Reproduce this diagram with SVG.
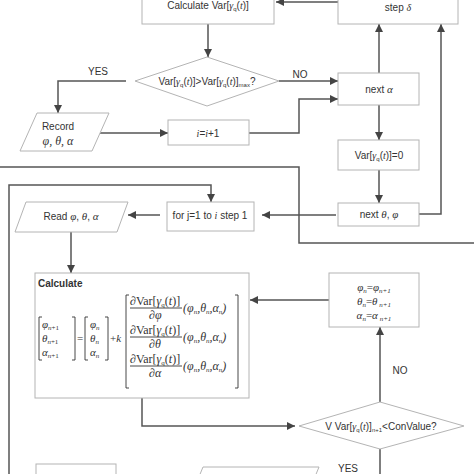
<svg xmlns="http://www.w3.org/2000/svg" width="474" height="474" viewBox="0 0 474 474">
<style>
.box{fill:#fff;stroke:#b4b4b4;stroke-width:1}
.con{fill:none;stroke:#555;stroke-width:1.5}
.t{font-family:"Liberation Sans","DejaVu Sans",sans-serif;font-size:10px;fill:#333}
.m{font-family:"Liberation Serif","DejaVu Serif",serif;font-style:italic;fill:#333}
.r{font-family:"Liberation Serif","DejaVu Serif",serif;fill:#333}
</style>
<defs>
<marker id="ah" viewBox="0 0 10 10" refX="10" refY="5" markerWidth="8" markerHeight="8" markerUnits="userSpaceOnUse" orient="auto">
<path d="M0,0 L10,5 L0,10 z" fill="#444"/>
</marker>
</defs>
<rect width="474" height="474" fill="#fff"/>

<g id="connectors">
<path class="con" d="M338,2 H276" marker-end="url(#ah)"/>
<path class="con" d="M208,24 V57" marker-end="url(#ah)"/>
<path class="con" d="M126,81 H58 V113" marker-end="url(#ah)"/>
<path class="con" d="M279,81 H338" marker-end="url(#ah)"/>
<path class="con" d="M100,133 H168" marker-end="url(#ah)"/>
<path class="con" d="M249,133 H299 V99 H338" marker-end="url(#ah)"/>
<path class="con" d="M379,73 V24" marker-end="url(#ah)"/>
<path class="con" d="M379,105 V140" marker-end="url(#ah)"/>
<path class="con" d="M379,170 V203" marker-end="url(#ah)"/>
<path class="con" d="M419,214 H441 V24" marker-end="url(#ah)"/>
<path class="con" d="M336,215 H262" marker-end="url(#ah)"/>
<path class="con" d="M160,215 H128" marker-end="url(#ah)"/>
<path class="con" d="M0,167 H299 V243 H474"/>
<path class="con" d="M9,474 V185 H211 V202" marker-end="url(#ah)"/>
<path class="con" d="M71,232 V273" marker-end="url(#ah)"/>
<path class="con" d="M142,398 V426 H295" marker-end="url(#ah)"/>
<path class="con" d="M380,402 V327" marker-end="url(#ah)"/>
<path class="con" d="M329,300 H250" marker-end="url(#ah)"/>
<path class="con" d="M380,449 V474"/>
<text class="t" x="98" y="75" text-anchor="middle">YES</text>
<text class="t" x="300" y="78" text-anchor="middle">NO</text>
<text class="t" x="400" y="374" text-anchor="middle">NO</text>
<text class="t" x="348" y="472" text-anchor="middle">YES</text>
</g>

<g id="calc-var">
<rect class="box" x="142" y="-20" width="132" height="44"/>
<text class="t" x="208" y="9" text-anchor="middle">Calculate Var[<tspan class="m">γ</tspan><tspan font-size="6" dy="2">q</tspan><tspan dy="-2">(</tspan><tspan class="m">t</tspan>)]</text>
</g>

<g id="step">
<rect class="box" x="338" y="-20" width="120" height="44"/>
<text class="t" x="398" y="11" text-anchor="middle">step <tspan class="m">δ</tspan></text>
</g>

<g id="diamond1">
<polygon class="box" points="135,81 207,57 279,81 207,106"/>
<text class="t" x="207" y="85" text-anchor="middle">Var[<tspan class="m">γ</tspan><tspan font-size="6" dy="2">q</tspan><tspan dy="-2">(</tspan><tspan class="m">t</tspan>)]&gt;Var[<tspan class="m">γ</tspan><tspan font-size="6" dy="2">q</tspan><tspan dy="-2">(</tspan><tspan class="m">t</tspan>)]<tspan font-size="6" dy="2">max</tspan><tspan dy="-2">?</tspan></text>
</g>

<g id="record">
<polygon class="box" points="37,113 109,113 92,151 20,151"/>
<text class="t" x="58" y="130" text-anchor="middle">Record</text>
<text class="m" x="58" y="145" font-size="12" text-anchor="middle">φ, θ, α</text>
</g>

<g id="incr">
<rect class="box" x="168" y="120" width="81" height="25"/>
<text class="t" x="208" y="137" text-anchor="middle"><tspan class="m">i</tspan>=<tspan class="m">i</tspan>+1</text>
</g>

<g id="next-alpha">
<rect class="box" x="338" y="73" width="81" height="32"/>
<text class="t" x="379" y="93" text-anchor="middle">next <tspan class="m" font-size="11">α</tspan></text>
</g>

<g id="var-zero">
<rect class="box" x="338" y="140" width="81" height="30"/>
<text class="t" x="379" y="159" text-anchor="middle">Var[<tspan class="m">γ</tspan><tspan font-size="6" dy="2">q</tspan><tspan dy="-2">(</tspan><tspan class="m">t</tspan>)]=0</text>
</g>

<g id="next-theta">
<rect class="box" x="338" y="203" width="81" height="23"/>
<text class="t" x="379" y="218" text-anchor="middle">next <tspan class="m" font-size="11">θ</tspan>, <tspan class="m" font-size="11">φ</tspan></text>
</g>

<g id="for-loop">
<rect class="box" x="167" y="202" width="87" height="29"/>
<text class="t" x="210" y="219" text-anchor="middle">for j=1 to <tspan class="m">i</tspan> step 1</text>
</g>

<g id="read">
<polygon class="box" points="26,202 128,202 117,232 15,232"/>
<text class="t" x="71" y="220" text-anchor="middle">Read <tspan class="m" font-size="11">φ</tspan>, <tspan class="m" font-size="11">θ</tspan>, <tspan class="m" font-size="11">α</tspan></text>
</g>

<g id="calculate">
<rect class="box" x="35" y="273" width="214" height="125"/>
<text class="t" x="38" y="287" font-weight="bold">Calculate</text>
<g fill="none" stroke="#333" stroke-width="0.9">
<path d="M42,317 H39 V360 H42"/>
<path d="M72,317 H75 V360 H72"/>
<path d="M88,317 H85 V360 H88"/>
<path d="M105,317 H108 V360 H105"/>
<path d="M129,295 H126 V388 H129"/>
<path d="M235,295 H238 V388 H235"/>
<path d="M130,308 H182 M130,337 H182 M130,366 H182"/>
</g>
<g font-size="11">
<text class="m" x="42" y="328">φ<tspan font-size="7" dy="2">n</tspan><tspan font-size="7" font-style="normal">+1</tspan></text>
<text class="m" x="42" y="342">θ<tspan font-size="7" dy="2">n</tspan><tspan font-size="7" font-style="normal">+1</tspan></text>
<text class="m" x="42" y="356">α<tspan font-size="7" dy="2">n</tspan><tspan font-size="7" font-style="normal">+1</tspan></text>
<text class="r" x="77" y="342">=</text>
<text class="m" x="90" y="328">φ<tspan font-size="7" dy="2">n</tspan></text>
<text class="m" x="90" y="342">θ<tspan font-size="7" dy="2">n</tspan></text>
<text class="m" x="90" y="356">α<tspan font-size="7" dy="2">n</tspan></text>
<text class="r" x="110" y="342">+<tspan font-style="italic">k</tspan></text>
</g>
<g font-size="12">
<text class="r" x="130" y="305">∂Var[<tspan font-style="italic">γ</tspan><tspan font-size="7" dy="2">q</tspan><tspan dy="-2">(</tspan><tspan font-style="italic">t</tspan>)]</text>
<text class="m" x="149" y="319">∂φ</text>
<text class="m" x="183" y="312">(φ<tspan font-size="7" dy="2">n</tspan><tspan dy="-2">,θ</tspan><tspan font-size="7" dy="2">n</tspan><tspan dy="-2">,α</tspan><tspan font-size="7" dy="2">n</tspan><tspan dy="-2">)</tspan></text>
<text class="r" x="130" y="334">∂Var[<tspan font-style="italic">γ</tspan><tspan font-size="7" dy="2">q</tspan><tspan dy="-2">(</tspan><tspan font-style="italic">t</tspan>)]</text>
<text class="m" x="149" y="348">∂θ</text>
<text class="m" x="183" y="341">(φ<tspan font-size="7" dy="2">n</tspan><tspan dy="-2">,θ</tspan><tspan font-size="7" dy="2">n</tspan><tspan dy="-2">,α</tspan><tspan font-size="7" dy="2">n</tspan><tspan dy="-2">)</tspan></text>
<text class="r" x="130" y="363">∂Var[<tspan font-style="italic">γ</tspan><tspan font-size="7" dy="2">q</tspan><tspan dy="-2">(</tspan><tspan font-style="italic">t</tspan>)]</text>
<text class="m" x="149" y="377">∂α</text>
<text class="m" x="183" y="370">(φ<tspan font-size="7" dy="2">n</tspan><tspan dy="-2">,θ</tspan><tspan font-size="7" dy="2">n</tspan><tspan dy="-2">,α</tspan><tspan font-size="7" dy="2">n</tspan><tspan dy="-2">)</tspan></text>
</g>
</g>

<g id="update">
<rect class="box" x="329" y="273" width="90" height="54"/>
<g font-size="11" text-anchor="middle">
<text class="m" x="374" y="291">φ<tspan font-size="7" dy="2">n</tspan><tspan dy="-2" font-style="normal">=</tspan>φ<tspan font-size="7" dy="2">n+1</tspan></text>
<text class="m" x="374" y="305">θ<tspan font-size="7" dy="2">n</tspan><tspan dy="-2" font-style="normal">=</tspan>θ<tspan font-size="7" dy="2"> n+1</tspan></text>
<text class="m" x="374" y="319">α<tspan font-size="7" dy="2">n</tspan><tspan dy="-2" font-style="normal">=</tspan>α<tspan font-size="7" dy="2"> n+1</tspan></text>
</g>
</g>

<g id="diamond2">
<polygon class="box" points="299,426 380,402 464,426 380,449"/>
<text class="t" x="381" y="430" text-anchor="middle">V Var[<tspan class="m">γ</tspan><tspan font-size="6" dy="2">q</tspan><tspan dy="-2">(</tspan><tspan class="m">t</tspan>)]<tspan font-size="6" dy="2">n+1</tspan><tspan dy="-2">&lt;ConValue?</tspan></text>
</g>

<g id="bottom-box">
<rect class="box" x="36" y="464" width="80" height="20"/>
</g>
<g id="bottom-para">
<polygon class="box" points="203,467 319,467 312,484 196,484"/>
</g>
</svg>
